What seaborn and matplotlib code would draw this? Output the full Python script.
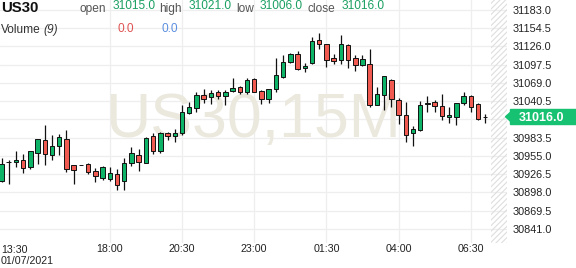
import numpy as np
import pandas as pd
import matplotlib
matplotlib.use("Agg")
import matplotlib.pyplot as plt
import matplotlib.transforms as mtransforms
from matplotlib.patches import Rectangle, Polygon
from matplotlib import font_manager
import seaborn as sns

# ---------------- data ----------------
opens = [30915, 30946, 30945, 30948, 30937, 30960, 30980, 30957, 30971, 30982,
         30940, 30940, 30942, 30932, 30921, 30919, 30926, 30915, 30943, 30957,
         30944, 30986, 30962, 30991, 30986, 30990, 31022, 31030, 31050, 31047,
         31054, 31049, 31056, 31063, 31054, 31075, 31056, 31043, 31059, 31078,
         31101, 31114, 31092, 31100, 31136, 31129, 31107, 31104, 31128, 31108,
         31097, 31099, 31035, 31050, 31074, 31042, 31018, 30991, 30996, 31036,
         31039, 31033, 31016, 31015, 31038, 31049, 31036, 31015]
highs = [30952, 30949, 30962, 30958, 30963, 30982, 31003, 30988, 30989, 30996,
         30941, 30940, 30944, 30936, 30939, 30937, 30935, 30951, 30968, 30965,
         30984, 30990, 30992, 30992, 30997, 31035, 31039, 31055, 31060, 31058,
         31058, 31057, 31077, 31064, 31077, 31076, 31057, 31060, 31108, 31113,
         31115, 31118, 31100, 31141, 31147, 31130, 31114, 31143, 31130, 31112,
         31112, 31122, 31062, 31080, 31075, 31045, 31039, 31002, 31041, 31048,
         31042, 31052, 31032, 31038, 31054, 31050, 31037, 31021]
lows = [30914, 30911, 30937, 30928, 30935, 30942, 30941, 30948, 30957, 30930,
        30911, 30940, 30926, 30914, 30917, 30916, 30902, 30902, 30939, 30932,
        30943, 30958, 30960, 30979, 30977, 30988, 31021, 31023, 31037, 31036,
        31044, 31035, 31054, 31052, 31052, 31054, 31036, 31038, 31054, 31077,
        31100, 31089, 31086, 31099, 31122, 31094, 31099, 31099, 31092, 31088,
        31095, 31032, 31034, 31026, 31031, 31005, 30977, 30970, 30994, 31023,
        31023, 31011, 31007, 31003, 31035, 31023, 31011, 31006]
closes = [30942, 30946, 30948, 30936, 30962, 30981, 30958, 30970, 30985, 30934,
          30933, 30940, 30929, 30924, 30937, 30928, 30910, 30944, 30960, 30946,
          30983, 30963, 30991, 30986, 30991, 31023, 31031, 31050, 31044, 31053,
          31049, 31055, 31061, 31054, 31074, 31055, 31044, 31059, 31081, 31102,
          31114, 31091, 31095, 31135, 31130, 31104, 31103, 31130, 31104, 31097,
          31106, 31035, 31051, 31079, 31043, 31019, 30988, 30997, 31035, 31038,
          31033, 31017, 31019, 31038, 31049, 31032, 31013, 31016]

start_time = "2021-07-01 14:15"
bar_freq = "15min"
time_labels = ["18:00", "20:30", "23:00", "01:30", "04:00", "06:30"]
first_time_label = "13:30"
date_label = "01/07/2021"
price_ticks = [31183.0, 31154.5, 31126.0, 31097.5, 31069.0, 31040.5, 31012.0,
               30983.5, 30955.0, 30926.5, 30898.0, 30869.5, 30841.0]
last_price = 31016.0
symbol = "US30"
watermark = "US30,15M"
head_labels = ["open", "high", "low", "close"]
head_values = ["31015.0", "31021.0", "31006.0", "31016.0"]
volume_label = "Volume"
volume_period = "(9)"
volume_values = ["0.0", "0.0"]

# ---------------- style ----------------
sns.set_theme(style="white")
plt.rcParams["font.family"] = ["Liberation Sans", "DejaVu Sans"]
plt.rcParams["hatch.linewidth"] = 0.8

installed = {f.name for f in font_manager.fontManager.ttflist}
if "Liberation Sans Narrow" in installed:
    wm_family, wm_size = ["Liberation Sans Narrow", "Liberation Sans"], 52
else:
    wm_family, wm_size = ["Liberation Sans", "DejaVu Sans"], 45

UP = "#0db468"
DOWN = "#f05a50"
TXT_GREEN = "#1a9f62"
GRID = "#eeeeee"

W, H = 576, 268
fig = plt.figure(figsize=(W / 100, H / 100), dpi=100)
fig.patch.set_facecolor("white")
ax_top, ax_bot, ax_right = 0, 243, 507
ax = fig.add_axes([0, (H - ax_bot) / H, ax_right / W, (ax_bot - ax_top) / H])
ax.set_facecolor("white")

df = pd.DataFrame({"open": opens, "high": highs, "low": lows, "close": closes})
df["time"] = pd.date_range(start_time, periods=len(df), freq=bar_freq)
df["x"] = np.arange(len(df))

ppu = 0.6404  # pixels per price unit
y_top = 31183.0 + 9.8 / ppu
y_bot = y_top - (ax_bot - ax_top) / ppu
bar_px = 7.22
x_left = -1.5 / bar_px
x_right = x_left + ax_right / bar_px
ax.set_xlim(x_left, x_right)
ax.set_ylim(y_bot, y_top)

# grid
ax.set_axisbelow(True)
ax.grid(True, color=GRID, lw=0.9)
for s in ax.spines.values():
    s.set_visible(False)

# hatched future zone
ax.add_patch(Rectangle((67.85, y_bot), 5, y_top - y_bot, facecolor="none",
                       edgecolor="#dedede", hatch="//////", lw=0, zorder=1))

# watermark
ax.text(0.5, (ax_bot - 137) / (ax_bot - ax_top), watermark, transform=ax.transAxes,
        ha="center", va="baseline", fontsize=wm_size, family=wm_family,
        color="#ebe8de", zorder=1.5)

# candles
colors = np.where(df["close"] > df["open"], UP,
                  np.where(df["close"] < df["open"], DOWN, "#333333"))
ax.vlines(df["x"], df["low"], df["high"], color="#111111", lw=0.9, zorder=3)
bottoms = np.minimum(df["open"], df["close"])
heights = np.abs(df["close"] - df["open"])
ax.bar(df["x"], heights, bottom=bottoms, width=0.62, color=colors,
       edgecolor="#111111", linewidth=0.7, zorder=4)

# x ticks from bar times
tick_pos = [int(df.index[df["time"].dt.strftime("%H:%M") == t][0]) for t in time_labels]
ax.set_xticks(tick_pos)
ax.set_xticklabels(time_labels)
ax.tick_params(axis="x", length=0, pad=0.6, labelsize=7.7, labelcolor="#222222")

# y ticks on the right
ax.yaxis.tick_right()
ax.set_yticks(price_ticks)
ax.set_yticklabels(["" if abs(v - last_price) < 5 else f"{v:.1f}" for v in price_ticks])
ax.tick_params(axis="y", length=0, pad=4.1, labelsize=7.8, labelcolor="#222222")

def fx(px):
    return px / W

def fy(py):
    return 1 - py / H

fig.text(fx(1), fy(253.3), first_time_label, fontsize=7.7, color="#222222", va="baseline")
fig.text(fx(1), fy(264.5), date_label, fontsize=7.7, color="#222222", va="baseline")

# last price badge
bt = mtransforms.blended_transform_factory(fig.transFigure, ax.transData)
bh = 15 / ppu
ax.add_patch(Rectangle((fx(510), last_price - bh / 2), fx(W - 510) + 0.01, bh,
                       transform=bt, clip_on=False, color="#16c172", zorder=10))
ax.add_patch(Polygon([(fx(505.5), last_price), (fx(510.5), last_price + 4.5 / ppu),
                      (fx(510.5), last_price - 4.5 / ppu)], closed=True,
                     transform=bt, clip_on=False, color="#16c172", zorder=10))
ax.text(fx(519), last_price, f"{last_price:.1f}", transform=bt, ha="left",
        va="center_baseline", color="white", fontsize=9, fontweight="bold",
        zorder=11, clip_on=False)

# header
fig.text(fx(1), fy(12), symbol, fontsize=10.8, fontweight="bold", color="#111111", va="baseline")
label_x = [79, 159, 236, 307]
value_x = [113, 189, 260, 342]
for lx, lab in zip(label_x, head_labels):
    fig.text(fx(lx), fy(12.3), lab, fontsize=8.6, color="#555555", va="baseline")
for vx, val in zip(value_x, head_values):
    fig.text(fx(vx), fy(9.2), val, fontsize=8.6, color=TXT_GREEN, va="baseline")

fig.text(fx(1), fy(33), volume_label, fontsize=8.6, color="#333333", va="baseline")
fig.text(fx(43), fy(33), volume_period, fontsize=8.6, color="#333333", style="italic", va="baseline")
fig.text(fx(117), fy(32), volume_values[0], fontsize=8.6, color="#e05252", va="baseline")
fig.text(fx(162), fy(32), volume_values[1], fontsize=8.6, color="#5b8fe0", va="baseline")

fig.savefig("out.png", dpi=100, facecolor="white")
